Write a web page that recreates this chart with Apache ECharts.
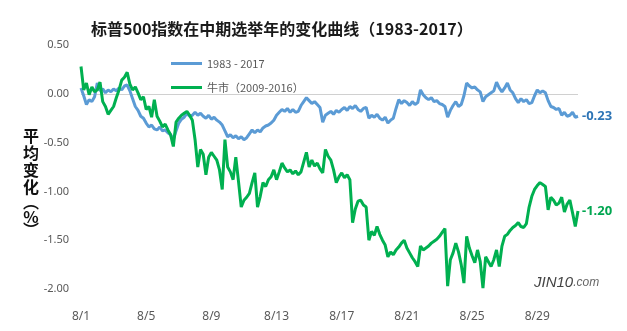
<!DOCTYPE html>
<html>
<head>
<meta charset="utf-8">
<script src="https://cdn.jsdelivr.net/npm/echarts@6/dist/echarts.min.js"></script>
<style>html,body{margin:0;padding:0;background:#fff;}#chart{width:627px;height:331px;}</style>
</head>
<body>
<div id="chart"></div>
<script>
// Tick labels on the x axis (every 4 days), 6 samples per day
var tickLabels = ['8/1','8/5','8/9','8/13','8/17','8/21','8/25','8/29'];
var samplesPerDay = 6;
var seriesNames = ['1983 - 2017', '牛市（2009-2016）'];
var yAxisNameChars = ['平','均','变','化','︵','%','︶'];

var avg1983 = [
 0.06,-0.02,-0.11,-0.06,-0.08,-0.03,0.11,0.03,0.05,0.01,
 0.04,0.02,0.05,0.03,0.06,0.04,0.08,0.09,0.03,-0.05,
 -0.13,-0.17,-0.23,-0.25,-0.30,-0.34,-0.32,-0.36,-0.37,-0.34,
 -0.38,-0.37,-0.40,-0.42,-0.47,-0.38,-0.30,-0.26,-0.24,-0.20,
 -0.23,-0.22,-0.19,-0.22,-0.20,-0.23,-0.25,-0.22,-0.26,-0.24,
 -0.27,-0.29,-0.32,-0.38,-0.44,-0.42,-0.45,-0.43,-0.46,-0.44,
 -0.47,-0.45,-0.41,-0.37,-0.40,-0.37,-0.39,-0.35,-0.33,-0.32,
 -0.30,-0.27,-0.22,-0.19,-0.16,-0.18,-0.15,-0.19,-0.16,-0.19,
 -0.18,-0.12,-0.08,-0.04,-0.07,-0.10,-0.08,-0.11,-0.14,-0.29,
 -0.22,-0.20,-0.18,-0.21,-0.17,-0.19,-0.16,-0.14,-0.17,-0.13,
 -0.15,-0.12,-0.16,-0.18,-0.15,-0.14,-0.25,-0.22,-0.24,-0.21,
 -0.25,-0.27,-0.24,-0.30,-0.27,-0.25,-0.15,-0.06,-0.10,-0.07,
 -0.09,-0.12,-0.08,-0.11,-0.09,0.04,-0.01,-0.04,-0.06,-0.04,
 -0.08,-0.07,-0.10,-0.11,-0.13,-0.24,-0.17,-0.12,-0.08,-0.13,
 -0.11,-0.02,0.11,0.08,0.06,0.07,0.04,0.02,-0.08,-0.03,
 -0.01,0.01,0.03,0.12,0.06,0.02,0.06,0.11,0.04,0.01,
 -0.05,-0.09,-0.05,-0.08,-0.06,-0.10,-0.09,-0.02,0.04,0.01,
 0.03,0.01,-0.07,-0.13,-0.14,-0.16,-0.15,-0.22,-0.19,-0.23,
 -0.22,-0.19,-0.24,-0.23
];

var bull2009 = [
 0.28,0.04,0.11,-0.01,0.07,0.02,0.04,0.12,-0.08,-0.13,
 -0.21,-0.17,-0.13,-0.04,0.04,0.14,0.17,0.22,0.10,0.04,
 0.07,0.01,-0.06,-0.03,-0.16,-0.13,-0.24,-0.06,-0.23,-0.28,
 -0.34,-0.31,-0.37,-0.42,-0.54,-0.29,-0.25,-0.22,-0.20,-0.18,
 -0.22,-0.27,-0.47,-0.75,-0.57,-0.62,-0.83,-0.65,-0.60,-0.64,
 -0.68,-0.78,-0.98,-0.47,-0.75,-0.80,-0.88,-0.65,-0.90,-1.16,
 -1.09,-1.06,-1.02,-0.91,-0.81,-1.16,-1.05,-0.91,-0.95,-0.88,
 -0.85,-0.78,-0.88,-0.80,-0.71,-0.76,-0.80,-0.78,-0.82,-0.79,
 -0.83,-0.80,-0.70,-0.60,-0.75,-0.68,-0.74,-0.71,-0.77,-0.81,
 -0.57,-0.64,-0.68,-0.78,-0.91,-0.85,-0.81,-0.86,-0.83,-0.88,
 -1.32,-1.18,-1.10,-1.09,-1.14,-1.16,-1.50,-1.41,-1.45,-1.36,
 -1.44,-1.50,-1.55,-1.67,-1.62,-1.65,-1.60,-1.57,-1.53,-1.50,
 -1.58,-1.63,-1.68,-1.72,-1.77,-1.56,-1.60,-1.58,-1.56,-1.53,
 -1.51,-1.49,-1.46,-1.42,-1.38,-1.97,-1.70,-1.63,-1.53,-1.62,
 -1.75,-1.94,-1.46,-1.58,-1.66,-1.73,-1.60,-1.72,-1.99,-1.67,
 -1.72,-1.77,-1.70,-1.60,-1.77,-1.56,-1.46,-1.44,-1.40,-1.37,
 -1.35,-1.32,-1.36,-1.37,-1.33,-1.16,-1.05,-0.98,-0.94,-0.91,
 -0.93,-0.95,-1.19,-1.06,-1.09,-1.14,-1.12,-1.06,-1.21,-1.13,
 -1.09,-1.22,-1.36,-1.20
];

var categories = avg1983.map(function (v, i) {
  return '8/' + (1 + Math.floor(i / samplesPerDay)) + '#' + (i % samplesPerDay);
});
var labelEvery = 4 * samplesPerDay;

// vertical axis title, one glyph per line, centred on one column
var nameTops = [136, 153, 170, 187, 202, 217, 230];
var nameGraphics = yAxisNameChars.map(function (ch, i) {
  return {
    type: 'text', x: 31, y: nameTops[i],
    style: {text: ch, font: 'bold 16px "Noto Sans CJK SC"', fill: '#111',
      textAlign: 'center', textVerticalAlign: 'middle'}
  };
});

var chart = echarts.init(document.getElementById('chart'), null, {renderer: 'canvas'});
var option = {
  backgroundColor: '#ffffff',
  animation: false,
  title: {
    text: '标普500指数在中期选举年的变化曲线（1983-2017）',
    left: 86, top: 16,
    textStyle: {fontFamily: '"Noto Sans CJK SC"', fontSize: 16, fontWeight: 'bold', color: '#1a1a1a'}
  },
  legend: {
    orient: 'vertical', left: 166, top: 53,
    itemWidth: 31, itemHeight: 3, itemGap: 13,
    icon: 'rect',
    textStyle: {fontFamily: '"Noto Sans CJK SC"', fontSize: 11, color: '#595959'},
    data: seriesNames
  },
  grid: {left: 81, right: 49, top: 45, bottom: 42},
  xAxis: {
    type: 'category', boundaryGap: false, data: categories,
    axisLine: {show: false}, axisTick: {show: false}, splitLine: {show: false},
    axisLabel: {
      interval: function (idx) { return idx % labelEvery === 0; },
      formatter: function (val, idx) { return tickLabels[idx / labelEvery] || ''; },
      margin: 22, fontFamily: '"Noto Sans"', fontSize: 12, color: '#595959'
    }
  },
  yAxis: {
    type: 'value', min: -2, max: 0.5, interval: 0.5,
    axisLine: {show: false}, axisTick: {show: false}, splitLine: {show: false},
    axisLabel: {
      formatter: function (v) { return v.toFixed(2); },
      margin: 12, fontFamily: '"Noto Sans"', fontSize: 11, color: '#595959'
    }
  },
  graphic: nameGraphics.concat([
    {
      type: 'text', left: 534, top: 275,
      style: {
        text: '{a|JIN10}{b|.com}',
        rich: {
          a: {font: 'italic 15px "Liberation Sans"', fill: '#444'},
          b: {font: 'italic 12px "Liberation Sans"', fill: '#666'}
        }
      }
    }
  ]),
  series: [
    {
      name: seriesNames[0], type: 'line', data: avg1983, showSymbol: false, symbol: 'none',
      lineStyle: {color: '#5B9BD5', width: 3}, itemStyle: {color: '#5B9BD5'},
      endLabel: {show: true, distance: 4, formatter: function (p) { return p.value.toFixed(2); },
        fontFamily: '"Noto Sans"', fontSize: 13, fontWeight: 'bold', color: '#2E75B6'},
      markLine: {
        silent: true, symbol: 'none', z: 1, label: {show: false},
        lineStyle: {color: '#d0d0d0', width: 1, type: 'solid'},
        data: [{yAxis: 0}]
      }
    },
    {
      name: seriesNames[1], type: 'line', data: bull2009, showSymbol: false, symbol: 'none',
      lineStyle: {color: '#00B050', width: 3}, itemStyle: {color: '#00B050'},
      endLabel: {show: true, distance: 4, formatter: function (p) { return p.value.toFixed(2); },
        fontFamily: '"Noto Sans"', fontSize: 13, fontWeight: 'bold', color: '#00A650'}
    }
  ]
};
chart.setOption(option);
</script>
</body>
</html>
